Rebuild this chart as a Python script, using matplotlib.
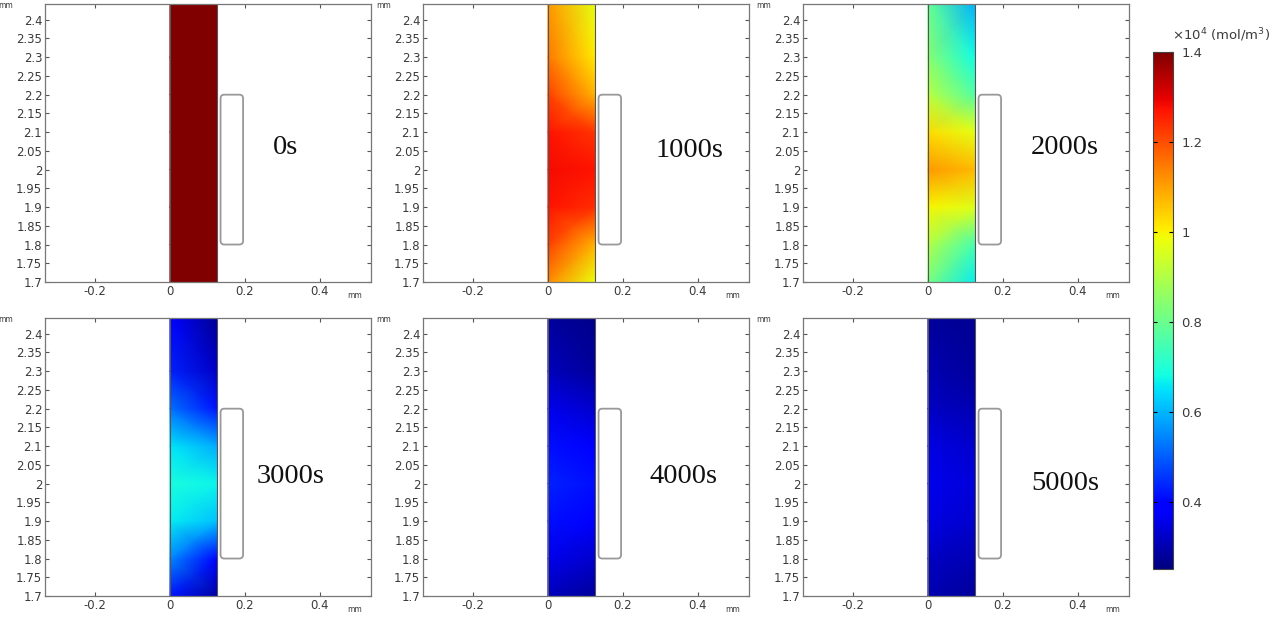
# Concentration maps of the strip at six times, COMSOL-like layout
import matplotlib.pyplot as plt
import numpy as np
from matplotlib.patches import FancyBboxPatch, Rectangle

# Data
times = ['0s', '1000s', '2000s', '3000s', '4000s', '5000s']
y_nodes = [1.7, 1.8, 1.9, 2.0, 2.1, 2.2, 2.3, 2.45]
x_nodes = [0.0, 0.125]

# concentration (x10^4 mol/m3) along left edge (x=0) and right edge (x=0.125)
left_0s = [1.4, 1.4, 1.4, 1.4, 1.4, 1.4, 1.4, 1.4]
right_0s = [1.4, 1.4, 1.4, 1.4, 1.4, 1.4, 1.4, 1.4]
left_1000s = [1.13, 1.22, 1.27, 1.28, 1.27, 1.22, 1.15, 1.11]
right_1000s = [0.98, 1.08, 1.24, 1.27, 1.23, 1.08, 1.01, 0.97]
left_2000s = [0.82, 0.90, 1.0, 1.11, 1.03, 0.91, 0.84, 0.79]
right_2000s = [0.66, 0.75, 0.96, 1.07, 0.97, 0.77, 0.68, 0.59]
left_3000s = [0.42, 0.55, 0.66, 0.69, 0.65, 0.52, 0.43, 0.38]
right_3000s = [0.29, 0.40, 0.61, 0.67, 0.59, 0.42, 0.32, 0.27]
left_4000s = [0.31, 0.36, 0.41, 0.43, 0.41, 0.36, 0.31, 0.28]
right_4000s = [0.28, 0.33, 0.39, 0.41, 0.39, 0.33, 0.28, 0.26]
left_5000s = [0.30, 0.32, 0.35, 0.36, 0.35, 0.32, 0.30, 0.28]
right_5000s = [0.28, 0.30, 0.33, 0.34, 0.33, 0.30, 0.28, 0.27]

lefts = [left_0s, left_1000s, left_2000s, left_3000s, left_4000s, left_5000s]
rights = [right_0s, right_1000s, right_2000s, right_3000s, right_4000s, right_5000s]

xticks = [-0.2, 0, 0.2, 0.4]
yticks = [1.7, 1.75, 1.8, 1.85, 1.9, 1.95, 2.0, 2.05, 2.1, 2.15, 2.2, 2.25, 2.3, 2.35, 2.4]
cbar_ticks = [0.4, 0.6, 0.8, 1.0, 1.2, 1.4]
vmin, vmax = 0.25, 1.4

# layout
W, H = 1280, 618
fig = plt.figure(figsize=(W / 100, H / 100), dpi=100)
col_left = [45, 423, 803]
row_top = [4, 318]
pw, ph = 326, 278
label_xy = [(0.275, 2.06), (0.286, 2.05), (0.275, 2.06),
            (0.232, 2.02), (0.27, 2.02), (0.275, 2.0)]

frame_col = '#777777'
txt_col = '#3a3a3a'

X, Y = np.meshgrid(x_nodes, y_nodes)
for i, t in enumerate(times):
    r, c = divmod(i, 3)
    ax = fig.add_axes([col_left[c] / W, (H - row_top[r] - ph) / H, pw / W, ph / H])
    C = np.column_stack([lefts[i], rights[i]])
    mesh = ax.pcolormesh(X, Y, C, shading='gouraud', cmap='jet', vmin=vmin, vmax=vmax)
    ax.add_patch(Rectangle((0, 1.65), 0.125, 0.9, fill=False, edgecolor='#555555', lw=0.8))
    ax.add_patch(FancyBboxPatch((0.135, 1.8), 0.06, 0.4,
                                boxstyle='round,pad=0,rounding_size=0.01',
                                facecolor='white', edgecolor='#999999', lw=1.3))
    ax.set_xlim(-0.333, 0.536)
    ax.set_ylim(1.7, 2.442)
    ax.set_xticks(xticks)
    ax.set_xticklabels(['{:g}'.format(v) for v in xticks])
    ax.set_yticks(yticks)
    ax.set_yticklabels(['{:g}'.format(v) for v in yticks])
    ax.tick_params(direction='in', length=3, width=0.8, color='#555555',
                   top=True, right=True, labelsize=8.4, labelcolor=txt_col, pad=2)
    for s in ax.spines.values():
        s.set_color(frame_col)
        s.set_linewidth(0.9)
    ax.text(label_xy[i][0], label_xy[i][1], t, family='Liberation Serif',
            fontsize=20.5, ha='left', va='center', color='#111111')
    ax.annotate('mm', xy=(0, 1), xycoords='axes fraction', xytext=(-39, -2),
                textcoords='offset pixels', fontsize=5.5, color=txt_col,
                ha='center', va='center')
    ax.annotate('mm', xy=(1, 0), xycoords='axes fraction', xytext=(-16, -13),
                textcoords='offset pixels', fontsize=5.5, color=txt_col,
                ha='center', va='center')

# colorbar
cax = fig.add_axes([1153 / W, (H - 569) / H, 20 / W, 517 / H])
cb = fig.colorbar(mesh, cax=cax, ticks=cbar_ticks)
cb.ax.set_yticklabels(['{:g}'.format(v) for v in cbar_ticks])
cb.ax.tick_params(direction='in', length=3, width=0.8, left=True, right=True,
                  labelsize=9.5, labelcolor=txt_col, pad=6)
cb.outline.set_edgecolor('#444444')
cb.outline.set_linewidth(0.8)
fig.text(1172 / W, 1 - 35 / H, r'$\times10^4$ (mol/m$^3$)', fontsize=9.5,
         color=txt_col, ha='left', va='center')

plt.savefig('out.png', dpi=100)
